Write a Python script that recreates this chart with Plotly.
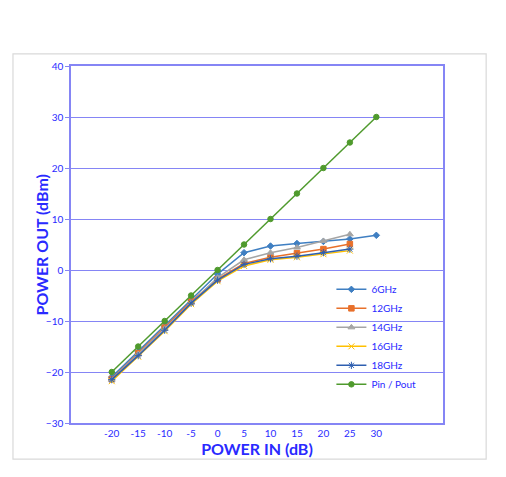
import plotly.graph_objects as go

power_in = [-20, -15, -10, -5, 0, 5, 10, 15, 20, 25, 30]

out_6ghz = [-21.0, -16.0, -11.0, -5.9, -0.8, 3.4, 4.7, 5.2, 5.6, 6.1, 6.8]
out_12ghz = [-21.4, -16.3, -11.3, -6.2, -1.8, 1.3, 2.5, 3.3, 4.1, 5.1]
out_14ghz = [-21.5, -16.5, -11.5, -6.4, -1.5, 2.0, 3.4, 4.4, 5.7, 7.0]
out_16ghz = [-21.8, -17.0, -12.0, -6.7, -2.2, 0.8, 2.0, 2.5, 3.1, 3.8]
out_18ghz = [-21.5, -16.8, -11.8, -6.5, -2.0, 1.1, 2.2, 2.7, 3.4, 4.1]
out_pin_pout = [-20, -15, -10, -5, 0, 5, 10, 15, 20, 25, 30]

series = [
    ("6GHz", out_6ghz, "#3f7fc2", "diamond", 5),
    ("12GHz", out_12ghz, "#e8702a", "square", 5.5),
    ("14GHz", out_14ghz, "#a5a5a5", "triangle-up", 6),
    ("16GHz", out_16ghz, "#ffc000", "x-thin-open", 6),
    ("18GHz", out_18ghz, "#2e5fb0", "asterisk-open", 6),
    ("Pin / Pout", out_pin_pout, "#4f9a2d", "circle", 5.5),
]

blue_text = "#2a2aff"
grid_col = "#8585f5"

fig = go.Figure()
for i, (name, vals, col, sym, size) in enumerate(series):
    fig.add_trace(go.Scatter(
        x=power_in[:len(vals)], y=vals, name=name, mode="lines+markers",
        line=dict(color=col, width=1.5),
        marker=dict(symbol=sym, size=size, color=col, line=dict(color=col, width=1)),
        legendgroup=f"g{i}",
    ))

# page body adds an 8px offset, so margins are shifted to compensate
fig.update_layout(
    width=506, height=477,
    margin=dict(l=63, r=71, t=58, b=62),
    paper_bgcolor="white", plot_bgcolor="white",
    font=dict(family="Lato, Open Sans, sans-serif", color=blue_text),
    legend=dict(
        x=0.70, y=0.415, xanchor="left", yanchor="top",
        bgcolor="rgba(0,0,0,0)", font=dict(size=10, color=blue_text),
        traceorder="grouped", tracegroupgap=0, itemwidth=30,
    ),
    shapes=[dict(
        type="rect", xref="paper", yref="paper",
        x0=-0.156, x1=1.116, y0=-0.101, y1=1.034,
        line=dict(color="#d9d9d9", width=1.2), fillcolor="rgba(0,0,0,0)",
        layer="below",
    )],
    annotations=[dict(
        text="<b>POWER OUT (dBm)</b>", textangle=-90, showarrow=False,
        xref="paper", yref="paper", x=-0.078, y=0.5,
        xanchor="center", yanchor="middle",
        font=dict(size=16, color=blue_text),
    )],
)

fig.update_xaxes(
    range=[-27.7, 42.6], tickvals=power_in, ticktext=[str(v) for v in power_in],
    showgrid=False, zeroline=False, showline=True, linecolor=grid_col, linewidth=1.5,
    mirror=True, ticks="", tickfont=dict(size=10, color=blue_text),
    title=dict(text="<b>POWER IN (dB)</b>", font=dict(size=16, color=blue_text), standoff=2),
)
fig.update_yaxes(
    range=[-30, 40], dtick=10, showgrid=True, gridcolor=grid_col, gridwidth=1.3,
    zeroline=False, showline=True, linecolor=grid_col, linewidth=1.5, mirror=True,
    ticks="outside", ticklen=4, tickcolor=grid_col,
    tickfont=dict(size=10, color=blue_text),
)

fig.write_html("out.html")
